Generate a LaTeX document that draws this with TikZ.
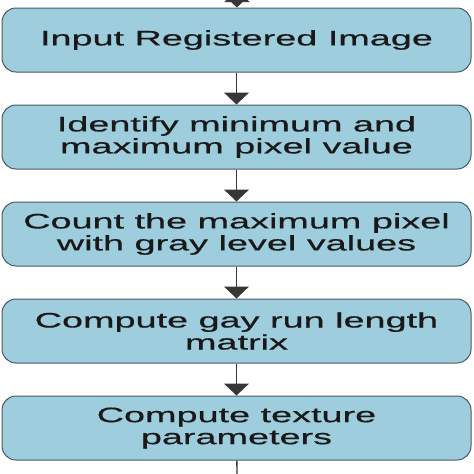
\documentclass[tikz,border=0pt]{standalone}
\usepackage{fontspec}
\setmainfont{Liberation Sans}[FakeStretch=1.8,FakeBold=0.5]
\usepackage{tikz}
\usetikzlibrary{arrows.meta}
\definecolor{boxblue}{RGB}{158,206,222}
\definecolor{boxedge}{RGB}{72,88,104}
\definecolor{linegray}{RGB}{55,55,55}

\begin{document}
\begin{tikzpicture}[->,>={Triangle[width=25pt,length=12pt]},node distance=97pt,
    line width=1.3pt, draw=linegray,
    stagebox/.style={draw=boxedge, line width=1pt, fill=boxblue, rounded corners=14pt,
      minimum width=469pt, minimum height=64pt, align=center, text=black!90,
      font=\fontsize{21}{22}\selectfont}]
  \useasboundingbox (0,0) rectangle (474pt,-474pt);
  \coordinate (top) at (237pt,10pt);
  \coordinate (bottom) at (237pt,-476pt);
  \node (input)   [stagebox] at (236.5pt,-40pt)  {Input Registered Image};
  \node (minmax)  [stagebox, below of=input]     {Identify minimum and\\maximum pixel value};
  \node (count)   [stagebox, below of=minmax]    {Count the maximum pixel\\with gray level values};
  \node (runlen)  [stagebox, below of=count]     {Compute gay run length\\matrix};
  \node (texture) [stagebox, below of=runlen]    {Compute texture\\parameters};
  \path[draw=linegray] (top)    edge (input)
        (input)  edge (minmax)
        (minmax) edge (count)
        (count)  edge (runlen)
        (runlen) edge (texture);
  \draw[-, draw=linegray] (texture) -- (bottom);
\end{tikzpicture}
\end{document}
